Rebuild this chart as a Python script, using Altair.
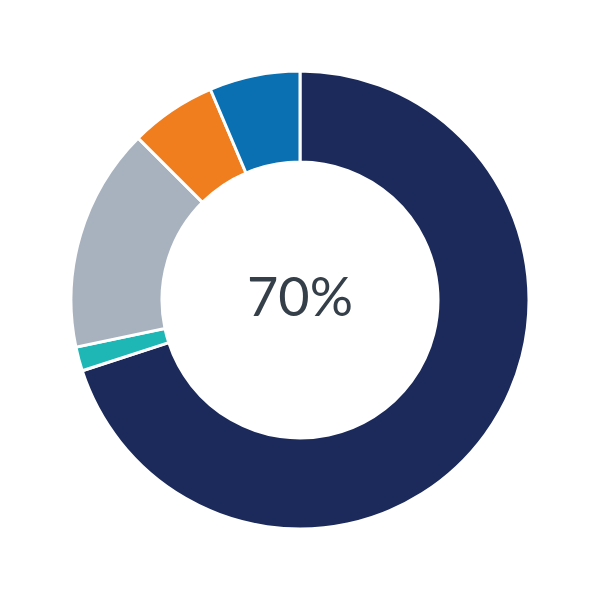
import altair as alt
import pandas as pd

categories = ["A", "B", "C", "D", "E"]
values = [70.0, 1.7, 15.8, 6.1, 6.4]
colors = ["#1b2a5a", "#1fb6b6", "#a8b2bf", "#f07e1e", "#0a70b2"]
center_label = "70%"

df = pd.DataFrame({"category": categories, "value": values, "order": list(range(len(categories)))})

base = alt.Chart(df)

arcs = base.mark_arc(outerRadius=229, innerRadius=138, stroke="white", strokeWidth=3).encode(
    theta=alt.Theta("value:Q", stack=True),
    color=alt.Color("category:N", scale=alt.Scale(domain=categories, range=colors), legend=None),
    order=alt.Order("order:Q"),
)

label = alt.Chart(pd.DataFrame({"t": [center_label]})).mark_text(
    font="Lato", fontSize=54, color="#353f4a", align="center", baseline="middle"
).encode(text="t:N", x=alt.value(292), y=alt.value(292))

chart = alt.layer(arcs, label).properties(width=584, height=584, padding=0).configure_view(stroke=None)

chart.save("out.html", embed_options={"renderer": "svg", "actions": False})
